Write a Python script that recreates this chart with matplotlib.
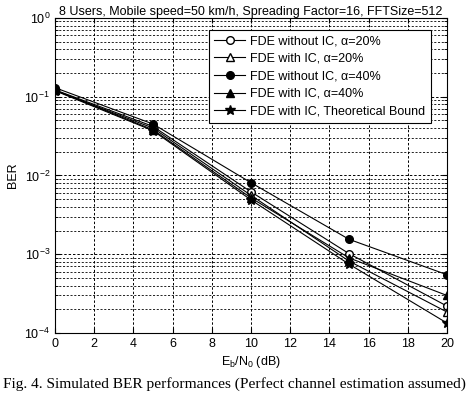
import matplotlib
matplotlib.use("Agg")
import matplotlib.pyplot as plt
import numpy as np

# Eb/N0 points (dB)
ebn0 = [0, 5, 10, 15, 20]

# BER values
ber_noic_20 = [0.122, 0.042, 6.2e-3, 1.02e-3, 2.2e-4]
ber_ic_20 = [0.120, 0.040, 5.6e-3, 8.2e-4, 1.85e-4]
ber_noic_40 = [0.130, 0.045, 8.1e-3, 1.55e-3, 5.5e-4]
ber_ic_40 = [0.121, 0.038, 5.2e-3, 9.0e-4, 3.0e-4]
ber_bound = [0.119, 0.037, 4.9e-3, 7.5e-4, 1.34e-4]

labels = ["FDE without IC, \u03b1=20%", "FDE with IC, \u03b1=20%",
          "FDE without IC, \u03b1=40%", "FDE with IC, \u03b1=40%",
          "FDE with IC, Theoretical Bound"]

plt.rcParams['font.family'] = ['Liberation Sans', 'DejaVu Sans']

fig = plt.figure(figsize=(4.74, 3.97), dpi=100)
ax = fig.add_axes([0.116, 0.161, 0.827, 0.794])

# open markers, then filled ones
ax.plot(ebn0, ber_noic_20, 'k-', marker='o', mfc='white', ms=5.5, lw=0.8, label=labels[0])
ax.plot(ebn0, ber_ic_20, 'k-', marker='^', mfc='white', ms=5.5, lw=0.8, label=labels[1])
ax.plot(ebn0, ber_noic_40, 'k-', marker='o', mfc='black', ms=5.5, lw=0.8, label=labels[2])
ax.plot(ebn0, ber_ic_40, 'k-', marker='^', mfc='black', ms=5.5, lw=0.8, label=labels[3])
ax.plot(ebn0, ber_bound, 'k-', marker='*', mfc='black', ms=7, lw=0.8, label=labels[4])

ax.set_yscale('log')
ax.set_xlim(0, 20)
ax.set_ylim(1e-4, 1)
ax.set_xticks(np.arange(0, 21, 2))
ax.tick_params(labelsize=9, direction='in', which='both', top=True, right=True)
ax.grid(True, which='major', linestyle=(0, (2.5, 2)), color='black', lw=0.7)
ax.grid(True, which='minor', axis='y', linestyle=(0, (2.5, 2)), color='black', lw=0.6)

ax.set_xlabel("E$_\\mathregular{b}$/N$_\\mathregular{0}$ (dB)", fontsize=9, labelpad=3)
ax.set_ylabel("BER", fontsize=9)
ax.set_title("8 Users, Mobile speed=50 km/h, Spreading Factor=16, FFTSize=512",
             fontsize=9, pad=2)

leg = ax.legend(loc='upper right', bbox_to_anchor=(0.974, 0.981), fontsize=9,
                frameon=True, fancybox=False, framealpha=1, edgecolor='black',
                handlelength=2.5, handletextpad=0.4, borderpad=0.4, labelspacing=0.45)
leg.get_frame().set_linewidth(0.8)

fig.text(0.006, 0.022, "Fig. 4. Simulated BER performances (Perfect channel estimation assumed)",
         family='Liberation Serif', fontsize=11.1)

fig.savefig("out.png", dpi=100)
